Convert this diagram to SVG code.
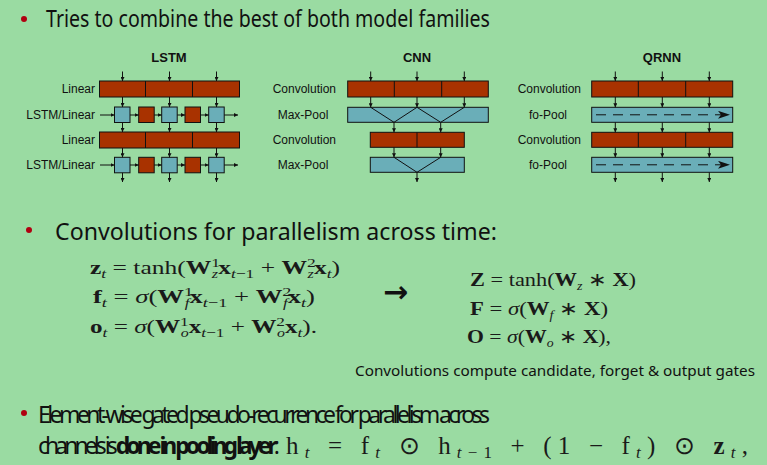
<svg xmlns="http://www.w3.org/2000/svg" width="767" height="465" viewBox="0 0 767 465">
<defs>
<marker id="ah" viewBox="0 0 6 6" refX="6" refY="3" markerWidth="4" markerHeight="4" orient="auto"><path d="M0,0L6,3L0,6z" fill="#111"/></marker>
<marker id="big" viewBox="0 0 12 8" refX="12" refY="4" markerWidth="13" markerHeight="8" markerUnits="userSpaceOnUse" orient="auto"><path d="M0,0L12,4L0,8L3,4z" fill="#111"/></marker>
</defs>
<style>
.bg{fill:#9adba2}
.r{fill:#a83200;stroke:#111;stroke-width:1}
.b{fill:#6aaeb8;stroke:#111;stroke-width:1}
.ln{stroke:#111;stroke-width:1;fill:none}
.a line{stroke:#111;stroke-width:1;marker-end:url(#ah)}
.lbl{font-family:"Liberation Sans",Arial,sans-serif;font-size:12px;fill:#111}
.ttl{font-family:"Liberation Sans",Arial,sans-serif;font-size:13px;font-weight:bold;fill:#111}
.bt{font-family:"Noto Sans","Open Sans",sans-serif;font-size:23px;fill:#111}
.m{font-family:"Liberation Serif","Times New Roman",serif;font-size:19px;fill:#1a1a1a}
.mb{font-family:"Liberation Serif","Times New Roman",serif;font-size:25px;fill:#1a1a1a}
.cap{font-family:"Noto Sans","Open Sans",sans-serif;font-size:14px;fill:#111}
.dot{fill:#b00010}
</style>
<rect class="bg" width="767" height="465"/>

<g id="bullet1">
<circle class="dot" cx="24" cy="19" r="3"/>
<text class="bt" x="46" y="27" textLength="444" lengthAdjust="spacingAndGlyphs">Tries to combine the best of both model families</text>
</g>

<g id="lstm">
<text class="ttl" x="169" y="62" text-anchor="middle">LSTM</text>
<text class="lbl" x="95" y="93" text-anchor="end">Linear</text>
<text class="lbl" x="95" y="119" text-anchor="end">LSTM/Linear</text>
<text class="lbl" x="95" y="144" text-anchor="end">Linear</text>
<text class="lbl" x="95" y="169" text-anchor="end">LSTM/Linear</text>
<rect class="r" x="99.5" y="81" width="140" height="16"/>
<path class="ln" d="M145.5,81V97M192.5,81V97"/>
<rect class="r" x="99.5" y="132" width="140" height="16"/>
<path class="ln" d="M145.5,132V148M192.5,132V148"/>
<g id="lstmrow1">
<rect class="b" x="114.5" y="107" width="15.5" height="15.5"/>
<rect class="r" x="138.7" y="107" width="15.5" height="15.5"/>
<rect class="b" x="161.7" y="107" width="15.5" height="15.5"/>
<rect class="r" x="185" y="107" width="15.5" height="15.5"/>
<rect class="b" x="208.7" y="107" width="15.5" height="15.5"/>
</g>
<g id="lstmrow2">
<rect class="b" x="114.5" y="157.3" width="15.5" height="15.5"/>
<rect class="r" x="138.7" y="157.3" width="15.5" height="15.5"/>
<rect class="b" x="161.7" y="157.3" width="15.5" height="15.5"/>
<rect class="r" x="185" y="157.3" width="15.5" height="15.5"/>
<rect class="b" x="208.7" y="157.3" width="15.5" height="15.5"/>
</g>
</g>

<g id="cnn">
<text class="ttl" x="417" y="62" text-anchor="middle">CNN</text>
<text class="lbl" x="336" y="93" text-anchor="end">Convolution</text>
<text class="lbl" x="303" y="119" text-anchor="middle">Max-Pool</text>
<text class="lbl" x="336" y="144" text-anchor="end">Convolution</text>
<text class="lbl" x="303" y="169" text-anchor="middle">Max-Pool</text>
<rect class="r" x="347.7" y="81" width="140.6" height="16"/>
<path class="ln" d="M394.3,81V97M441.7,81V97"/>
<rect class="b" x="347.7" y="107.3" width="140.6" height="15"/>
<path class="ln" d="M370.7,107.3L394,122.3L417,107.3L440.7,122.3L464.3,107.3"/>
<rect class="r" x="370.3" y="132.3" width="94" height="15"/>
<path class="ln" d="M417,132.3V147.3"/>
<rect class="b" x="370.3" y="157.3" width="94" height="15"/>
<path class="ln" d="M394,157.3L417,172.3L440.7,157.3"/>
</g>

<g id="qrnn">
<text class="ttl" x="662" y="62" text-anchor="middle">QRNN</text>
<text class="lbl" x="581" y="93" text-anchor="end">Convolution</text>
<text class="lbl" x="548" y="119" text-anchor="middle">fo-Pool</text>
<text class="lbl" x="581" y="144" text-anchor="end">Convolution</text>
<text class="lbl" x="548" y="169" text-anchor="middle">fo-Pool</text>
<rect class="r" x="591.7" y="81" width="141" height="16"/>
<path class="ln" d="M638.3,81V97M685.7,81V97"/>
<rect class="b" x="591.7" y="107.3" width="141" height="15"/>
<path class="ln" d="M596,114.8H730" stroke-dasharray="10,7" marker-end="url(#big)"/>
<rect class="r" x="591.7" y="132.3" width="141" height="15"/>
<path class="ln" d="M638.3,132.3V147.3M685.7,132.3V147.3"/>
<rect class="b" x="591.7" y="157.3" width="141" height="15"/>
<path class="ln" d="M596,164.8H730" stroke-dasharray="10,7" marker-end="url(#big)"/>
</g>

<g id="connectors" class="a">
<line x1="122.5" y1="71.5" x2="122.5" y2="81"/><line x1="169.5" y1="71.5" x2="169.5" y2="81"/><line x1="216.5" y1="71.5" x2="216.5" y2="81"/>
<line x1="122.5" y1="97" x2="122.5" y2="107"/><line x1="169.5" y1="97" x2="169.5" y2="107"/><line x1="216.5" y1="97" x2="216.5" y2="107"/>
<line x1="122.5" y1="122.5" x2="122.5" y2="132"/><line x1="169.5" y1="122.5" x2="169.5" y2="132"/><line x1="216.5" y1="122.5" x2="216.5" y2="132"/>
<line x1="122.5" y1="148" x2="122.5" y2="157.3"/><line x1="169.5" y1="148" x2="169.5" y2="157.3"/><line x1="216.5" y1="148" x2="216.5" y2="157.3"/>
<line x1="122.5" y1="172.8" x2="122.5" y2="182"/><line x1="169.5" y1="172.8" x2="169.5" y2="182"/><line x1="216.5" y1="172.8" x2="216.5" y2="182"/>
<line x1="100" y1="115" x2="114.5" y2="115"/><line x1="130" y1="115" x2="138.7" y2="115"/><line x1="154.2" y1="115" x2="161.7" y2="115"/><line x1="177.2" y1="115" x2="185" y2="115"/><line x1="200.5" y1="115" x2="208.7" y2="115"/><line x1="224.2" y1="115" x2="238" y2="115"/>
<line x1="100" y1="165" x2="114.5" y2="165"/><line x1="130" y1="165" x2="138.7" y2="165"/><line x1="154.2" y1="165" x2="161.7" y2="165"/><line x1="177.2" y1="165" x2="185" y2="165"/><line x1="200.5" y1="165" x2="208.7" y2="165"/><line x1="224.2" y1="165" x2="238" y2="165"/>
<line x1="370.7" y1="71.5" x2="370.7" y2="81"/><line x1="417" y1="71.5" x2="417" y2="81"/><line x1="464.3" y1="71.5" x2="464.3" y2="81"/>
<line x1="370.7" y1="97" x2="370.7" y2="107.3"/><line x1="417" y1="97" x2="417" y2="107.3"/><line x1="464.3" y1="97" x2="464.3" y2="107.3"/>
<line x1="394" y1="122.3" x2="394" y2="132.3"/><line x1="440.7" y1="122.3" x2="440.7" y2="132.3"/>
<line x1="394" y1="147.3" x2="394" y2="157.3"/><line x1="440.7" y1="147.3" x2="440.7" y2="157.3"/>
<line x1="417" y1="172.3" x2="417" y2="182"/>
<line x1="615.3" y1="71.5" x2="615.3" y2="81"/><line x1="662.3" y1="71.5" x2="662.3" y2="81"/><line x1="709.3" y1="71.5" x2="709.3" y2="81"/>
<line x1="615.3" y1="97" x2="615.3" y2="107.3"/><line x1="662.3" y1="97" x2="662.3" y2="107.3"/><line x1="709.3" y1="97" x2="709.3" y2="107.3"/>
<line x1="615.3" y1="122.3" x2="615.3" y2="132.3"/><line x1="662.3" y1="122.3" x2="662.3" y2="132.3"/><line x1="709.3" y1="122.3" x2="709.3" y2="132.3"/>
<line x1="615.3" y1="147.3" x2="615.3" y2="157.3"/><line x1="662.3" y1="147.3" x2="662.3" y2="157.3"/><line x1="709.3" y1="147.3" x2="709.3" y2="157.3"/>
<line x1="615.3" y1="172.3" x2="615.3" y2="182"/><line x1="662.3" y1="172.3" x2="662.3" y2="182"/><line x1="709.3" y1="172.3" x2="709.3" y2="182"/>
</g>

<g id="bullet2">
<circle class="dot" cx="29" cy="230" r="3"/>
<text class="bt" x="55" y="240" textLength="442" lengthAdjust="spacingAndGlyphs">Convolutions for parallelism across time:</text>
</g>

<g id="eqleft">
<text class="m" x="90" y="274" textLength="250" lengthAdjust="spacingAndGlyphs"><tspan font-weight="bold">z</tspan><tspan font-size="13" font-style="italic" dy="4">t</tspan><tspan dy="-4"> = tanh(</tspan><tspan font-weight="bold">W</tspan><tspan font-size="13" dy="-7">1</tspan><tspan font-size="12" font-style="italic" dx="-6" dy="11">z</tspan><tspan font-weight="bold" dy="-4">x</tspan><tspan font-size="13" font-style="italic" dy="4">t</tspan><tspan font-size="13">−1</tspan><tspan dy="-4"> + </tspan><tspan font-weight="bold">W</tspan><tspan font-size="13" dy="-7">2</tspan><tspan font-size="12" font-style="italic" dx="-6" dy="11">z</tspan><tspan font-weight="bold" dy="-4">x</tspan><tspan font-size="13" font-style="italic" dy="4">t</tspan><tspan dy="-4">)</tspan></text>
<text class="m" x="93" y="303" textLength="222" lengthAdjust="spacingAndGlyphs"><tspan font-weight="bold">f</tspan><tspan font-size="13" font-style="italic" dy="4">t</tspan><tspan dy="-4"> = </tspan><tspan font-style="italic">σ</tspan><tspan>(</tspan><tspan font-weight="bold">W</tspan><tspan font-size="13" dy="-7">1</tspan><tspan font-size="12" font-style="italic" dx="-6" dy="11">f</tspan><tspan font-weight="bold" dy="-4">x</tspan><tspan font-size="13" font-style="italic" dy="4">t</tspan><tspan font-size="13">−1</tspan><tspan dy="-4"> + </tspan><tspan font-weight="bold">W</tspan><tspan font-size="13" dy="-7">2</tspan><tspan font-size="12" font-style="italic" dx="-6" dy="11">f</tspan><tspan font-weight="bold" dy="-4">x</tspan><tspan font-size="13" font-style="italic" dy="4">t</tspan><tspan dy="-4">)</tspan></text>
<text class="m" x="90" y="333" textLength="227" lengthAdjust="spacingAndGlyphs"><tspan font-weight="bold">o</tspan><tspan font-size="13" font-style="italic" dy="4">t</tspan><tspan dy="-4"> = </tspan><tspan font-style="italic">σ</tspan><tspan>(</tspan><tspan font-weight="bold">W</tspan><tspan font-size="13" dy="-7">1</tspan><tspan font-size="12" font-style="italic" dx="-6" dy="11">o</tspan><tspan font-weight="bold" dy="-4">x</tspan><tspan font-size="13" font-style="italic" dy="4">t</tspan><tspan font-size="13">−1</tspan><tspan dy="-4"> + </tspan><tspan font-weight="bold">W</tspan><tspan font-size="13" dy="-7">2</tspan><tspan font-size="12" font-style="italic" dx="-6" dy="11">o</tspan><tspan font-weight="bold" dy="-4">x</tspan><tspan font-size="13" font-style="italic" dy="4">t</tspan><tspan dy="-4">).</tspan></text>
</g>

<g id="arrow">
<text x="383" y="302" font-family="'DejaVu Sans',sans-serif" font-size="30" font-weight="bold" fill="#111">→</text>
</g>

<g id="eqright">
<text class="m" x="470" y="286" textLength="166" lengthAdjust="spacingAndGlyphs"><tspan font-weight="bold">Z</tspan><tspan> = tanh(</tspan><tspan font-weight="bold">W</tspan><tspan font-size="12" font-style="italic" dy="4">z</tspan><tspan dy="-4"> ∗ </tspan><tspan font-weight="bold">X</tspan><tspan>)</tspan></text>
<text class="m" x="470" y="315" textLength="138" lengthAdjust="spacingAndGlyphs"><tspan font-weight="bold">F</tspan><tspan> = </tspan><tspan font-style="italic">σ</tspan><tspan>(</tspan><tspan font-weight="bold">W</tspan><tspan font-size="12" font-style="italic" dy="4">f</tspan><tspan dy="-4"> ∗ </tspan><tspan font-weight="bold">X</tspan><tspan>)</tspan></text>
<text class="m" x="467" y="343" textLength="144" lengthAdjust="spacingAndGlyphs"><tspan font-weight="bold">O</tspan><tspan> = </tspan><tspan font-style="italic">σ</tspan><tspan>(</tspan><tspan font-weight="bold">W</tspan><tspan font-size="12" font-style="italic" dy="4">o</tspan><tspan dy="-4"> ∗ </tspan><tspan font-weight="bold">X</tspan><tspan>),</tspan></text>
<text class="cap" x="355" y="376" textLength="400" lengthAdjust="spacingAndGlyphs">Convolutions compute candidate, forget &amp; output gates</text>
</g>

<g id="bullet3">
<circle class="dot" cx="24" cy="413" r="3"/>
<text class="bt" x="38" y="423" textLength="452" lengthAdjust="spacing">Element-wise gated pseudo-recurrence for parallelism across</text>
<text class="bt" x="38" y="454" textLength="242" lengthAdjust="spacing">channels is <tspan font-weight="bold">done in pooling layer</tspan>:</text>
<text class="mb" x="286" y="454" textLength="462" lengthAdjust="spacing"><tspan>h</tspan><tspan font-size="17" font-style="italic" dy="4">t</tspan><tspan dy="-4"> = f</tspan><tspan font-size="17" font-style="italic" dy="4">t</tspan><tspan dy="-4"> ⊙ h</tspan><tspan font-size="17" font-style="italic" dy="4">t</tspan><tspan font-size="17">−1</tspan><tspan dy="-4"> + (1 − f</tspan><tspan font-size="17" font-style="italic" dy="4">t</tspan><tspan dy="-4">) ⊙ </tspan><tspan font-weight="bold">z</tspan><tspan font-size="17" font-style="italic" dy="4">t</tspan><tspan dy="-4">,</tspan></text>
</g>
</svg>
